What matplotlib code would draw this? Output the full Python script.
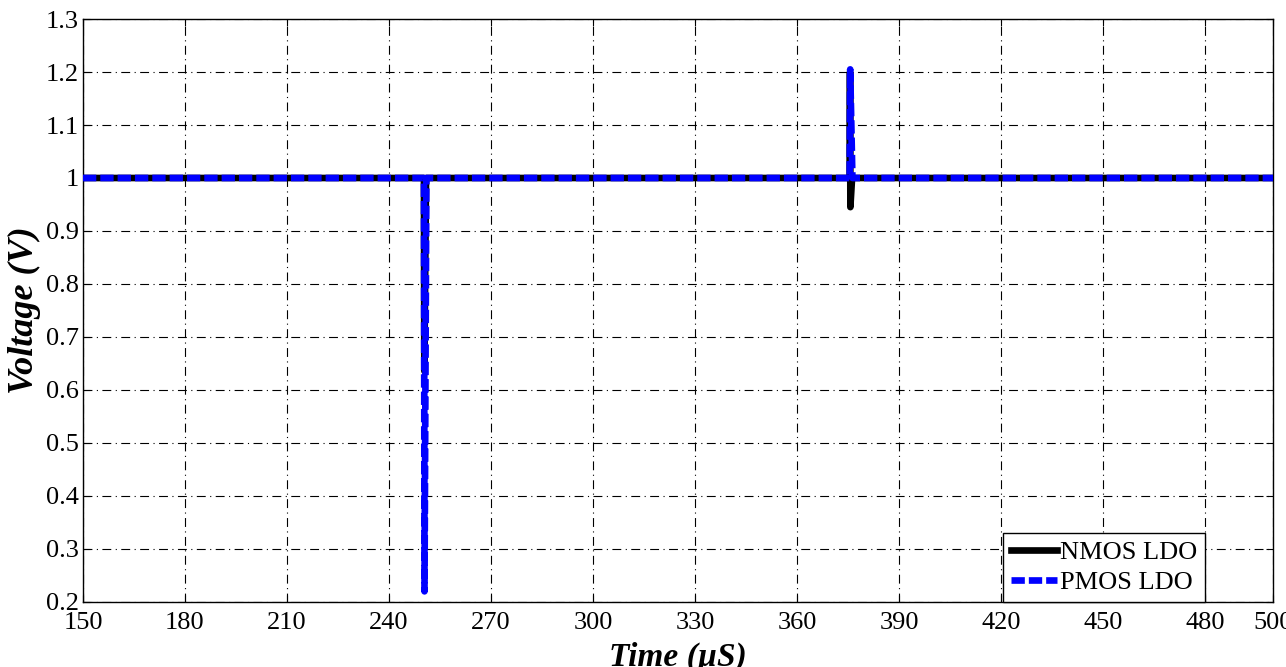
import matplotlib
matplotlib.use("Agg")
import matplotlib.pyplot as plt

# ── 데이터 ─────────────────────────────────────────────────────────
nmos_t = [150, 250.3, 250.4, 250.9, 375.5, 375.6, 375.7, 376.2, 500]
nmos_v = [1.0, 1.0, 0.636, 1.0, 1.0, 1.20, 0.945, 1.0, 1.0]

pmos_t = [150, 250.3, 250.45, 251.0, 375.5, 375.65, 376.3, 500]
pmos_v = [1.0, 1.0, 0.22, 1.0, 1.0, 1.205, 1.0, 1.0]

x_ticks = [150, 180, 210, 240, 270, 300, 330, 360, 390, 420, 450, 480, 500]
y_ticks = [0.2, 0.3, 0.4, 0.5, 0.6, 0.7, 0.8, 0.9, 1.0, 1.1, 1.2, 1.3]
y_labels = ["0.2", "0.3", "0.4", "0.5", "0.6", "0.7", "0.8", "0.9", "1", "1.1", "1.2", "1.3"]

plt.rcParams["font.family"] = ["Liberation Serif", "DejaVu Serif"]

fig = plt.figure(figsize=(12.86, 6.67), dpi=100)
ax = fig.add_axes([0.0645, 0.0975, 0.9254, 0.874])

ax.plot(nmos_t, nmos_v, color="black", lw=4.8, label="NMOS LDO", zorder=3)
ax.plot(pmos_t, pmos_v, color="#0000ff", lw=4.8, ls=(0, (2.0, 0.6)),
        label="PMOS LDO", zorder=4)

ax.set_xlim(150, 500)
ax.set_ylim(0.2, 1.3)
ax.set_xticks(x_ticks)
ax.set_yticks(y_ticks)
ax.set_yticklabels(y_labels)
ax.tick_params(direction="in", labelsize=19, top=True, right=True, length=5, pad=3)
ax.tick_params(axis="x", pad=7)

ax.grid(True, color="black", ls=(0, (8, 4, 1, 4)), lw=0.8)
for s in ax.spines.values():
    s.set_linewidth(1.0)

ax.set_xlabel("Time (µS)", fontsize=24, fontweight="bold", fontstyle="italic", labelpad=6)
ax.set_ylabel("Voltage (V)", fontsize=26, fontweight="bold", fontstyle="italic", labelpad=3)

leg = ax.legend(loc="lower right", bbox_to_anchor=(330 / 350, 0.0), borderaxespad=0,
                fontsize=19, handlelength=1.75, handletextpad=0.1,
                fancybox=False, framealpha=1, edgecolor="black",
                borderpad=0.3, labelspacing=0.25)
leg.get_frame().set_linewidth(1.0)

plt.savefig("out.png", dpi=100)
plt.close()
